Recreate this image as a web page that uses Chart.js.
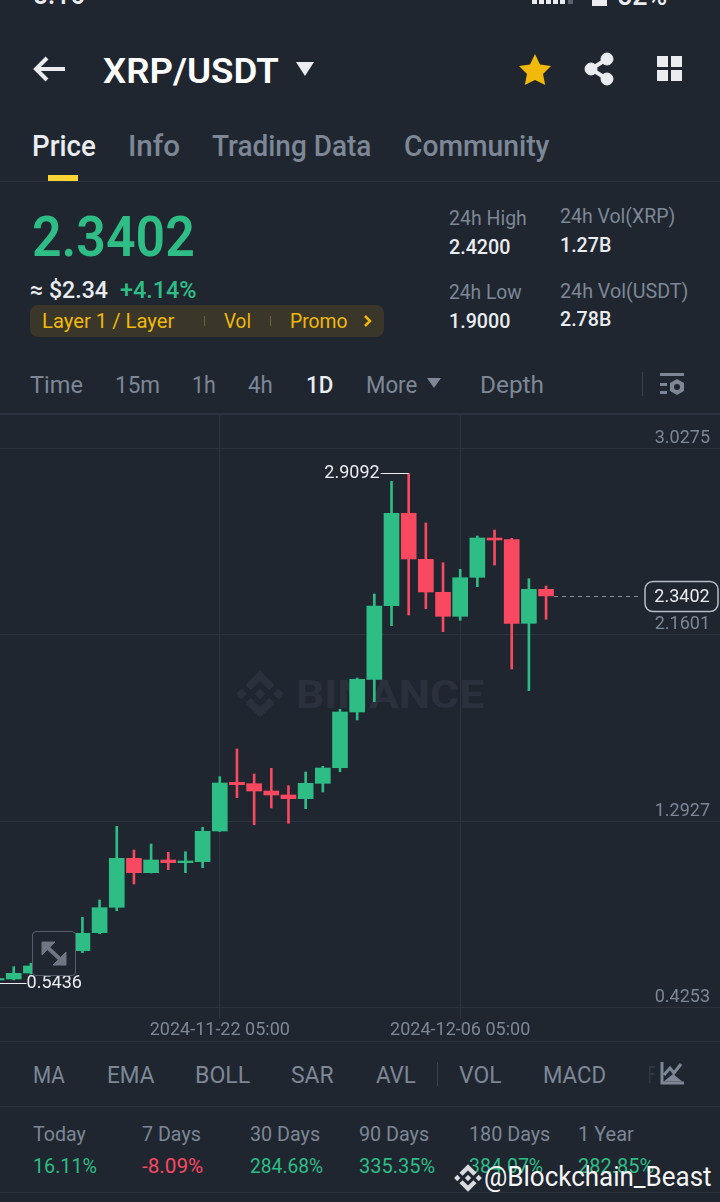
<!DOCTYPE html>
<html>
<head>
<meta charset="utf-8"/>
<title>XRP/USDT</title>
<script src="https://cdn.jsdelivr.net/npm/chart.js@4"></script>
<style>
html,body{margin:0;padding:0;background:#1f2630;width:720px;height:1202px;overflow:hidden;font-family:Roboto,sans-serif}
#ui span{position:absolute;white-space:nowrap;transform-origin:left center;line-height:1}
.line{position:absolute;left:0;width:720px;height:1px;background:#2c333e}
.abs{position:absolute}
#chart{position:absolute;left:0;top:414px}
</style>
</head>
<body>
<svg width="0" height="0" style="position:absolute"><defs>
<symbol id="logo" viewBox="0 0 126 126"><path d="M38.73 53.2L63 28.93l24.28 24.28 14.12-14.12L63 .68 24.6 39.09l14.13 14.11zM.68 63l14.13-14.13L28.94 63 14.8 77.13.68 63zm38.05 9.8L63 97.07l24.28-24.28 14.13 14.1L63 125.32 24.6 86.91l-.02-.02 14.15-14.09zM97.06 63l14.13-14.13L125.32 63l-14.13 14.13L97.06 63zM77.33 63L63 48.67 52.4 59.26l-1.22 1.22-2.5 2.51 14.33 14.33L77.33 63z"/></symbol>
</defs></svg>

<div class="abs" style="left:30px;top:305px;width:354px;height:32px;border-radius:8px;background:#3a3629"></div>
<div class="abs" style="left:204px;top:316px;width:1px;height:10px;background:#6e6238"></div>
<div class="abs" style="left:270px;top:316px;width:1px;height:10px;background:#6e6238"></div>

<!-- watermark sits under the transparent canvas -->
<svg class="abs" style="left:236px;top:670px;fill:#2a313c" width="48" height="48"><use href="#logo"/></svg>
<div id="ui"></div>

<div class="line" style="top:181px"></div>
<div class="abs" style="left:48px;top:175px;width:30px;height:6px;background:#fcd535"></div>
<div class="line" style="top:413px;height:2px"></div>
<div class="line" style="top:1041px"></div>
<div class="line" style="top:1106px"></div>
<div class="line" style="top:1192px"></div>
<div class="abs" style="left:642px;top:372px;width:1px;height:24px;background:#3a424e"></div>
<div class="abs" style="left:437px;top:1062px;width:1px;height:24px;background:#3a424e"></div>

<!-- status bar leftovers -->
<svg class="abs" style="left:532px;top:0" width="76" height="7" fill="#eaecef"><path d="M0 0h5v4H0zM7 0h5v4H7zM14 0h5v4h-5zM21 0h5v4h-5zM28 0h5v4h-5z"/><path d="M36 0h5v4h-5z" fill="#5a626e"/><path d="M60 0h15v6H60z"/></svg>

<!-- top icons -->
<svg class="abs" style="left:30px;top:52px" width="40" height="34" fill="none" stroke="#eaecef" stroke-width="4"><path d="M35 17H7M17 6L6 17l11 11"/></svg>
<svg class="abs" style="left:295px;top:61px" width="20" height="16" fill="#eaecef"><path d="M1 1h18l-9 14z"/></svg>
<svg class="abs" style="left:518px;top:53px" width="34" height="32" fill="#f0b90b"><path d="M17 1l5 10.5 11 1.5-8 8 2.2 11L17 27l-10.200 5L9 21 1 13l11-1.500z"/></svg>
<svg class="abs" style="left:583px;top:52px" width="34" height="34" fill="#eaecef" stroke="#eaecef"><circle cx="24" cy="7" r="6"/><circle cx="8" cy="17" r="6"/><circle cx="24" cy="27" r="6"/><path d="M24 7L8 17l16 10" fill="none" stroke-width="4"/></svg>
<svg class="abs" style="left:656px;top:55px" width="28" height="28" fill="#eaecef"><path d="M1 1h11v11H1zM15 1h11v11H15zM1 15h11v11H1zM15 15h11v11H15z"/></svg>
<svg class="abs" style="left:427px;top:378px" width="14" height="11" fill="#7d8796"><path d="M0 0h14l-7 10z"/></svg>
<svg class="abs" style="left:660px;top:372px" width="25" height="25" fill="#7d8796"><path d="M0 1h24v3H0zM0 11h7v3H0zM0 19h7v3H0z"/><path d="M17 7l7 4v8l-7 4-7-4v-8z"/><circle cx="17" cy="15" r="3" fill="#1f2630"/></svg>
<svg class="abs" style="left:660px;top:1061px" width="25" height="25" fill="none" stroke="#7d8796" stroke-width="3"><path d="M2 1v21h22"/><path d="M4 14l6-7 4 5 7-9"/><path d="M8 19l5-4 5 4z" fill="#7d8796"/></svg>
<svg class="abs" style="left:362px;top:314px" width="12" height="14" fill="none" stroke="#f0b90b" stroke-width="2.500"><path d="M3 2l5 5-5 5"/></svg>

<canvas id="chart" width="720" height="627" style="width:720px;height:627px"></canvas>

<!-- expand button covers the candles behind it -->
<div class="abs" style="left:32px;top:931px;width:42px;height:43px;border:1px solid #555d6a;border-radius:4px;background:#1f2630"></div>
<svg class="abs" style="left:41px;top:940px" width="26" height="27" fill="#6f7784" stroke="#6f7784"><path d="M1 2h13L1 15z"/><path d="M25 25H12l13-13z"/><path d="M6 7l14 13" stroke-width="4"/></svg>

<svg class="abs" style="left:454px;top:1164px;fill:#d9dbdf" width="28" height="28"><use href="#logo"/></svg>

<script>
// daily candles
const dates = [
	'2024-11-09 05:00','2024-11-10 05:00','2024-11-11 05:00','2024-11-12 05:00','2024-11-13 05:00','2024-11-14 05:00',
	'2024-11-15 05:00','2024-11-16 05:00','2024-11-17 05:00','2024-11-18 05:00','2024-11-19 05:00','2024-11-20 05:00',
	'2024-11-21 05:00','2024-11-22 05:00','2024-11-23 05:00','2024-11-24 05:00','2024-11-25 05:00','2024-11-26 05:00',
	'2024-11-27 05:00','2024-11-28 05:00','2024-11-29 05:00','2024-11-30 05:00','2024-12-01 05:00','2024-12-02 05:00',
	'2024-12-03 05:00','2024-12-04 05:00','2024-12-05 05:00','2024-12-06 05:00','2024-12-07 05:00','2024-12-08 05:00',
	'2024-12-09 05:00','2024-12-10 05:00','2024-12-11 05:00'
];
const opens = [
	0.5554,0.5600,0.5879,0.6205,0.6576,0.6916,0.7752,0.8932,1.1209,1.0540,1.1130,1.1005,1.1051,1.2478,1.4741,1.4676,1.4336,
	1.4151,1.3979,1.4694,1.5419,1.8007,1.9527,2.2947,2.7241,2.5103,2.3570,2.2454,2.4266,2.6093,2.6014,2.2129,2.3709
];
const closes = [
	0.5624,0.5865,0.6205,0.6576,0.6916,0.7724,0.8914,1.1209,1.0540,1.1130,1.1005,1.1084,1.2464,1.4708,1.4629,1.4336,1.4151,
	1.3979,1.4694,1.5405,1.8007,1.9527,2.2933,2.7241,2.5117,2.3584,2.2454,2.4248,2.6093,2.6000,2.2129,2.3709,2.3402
];
const highs = [
	0.5740,0.6172,0.6330,0.6762,0.7134,0.8468,0.9271,1.2696,1.1595,1.1874,1.1488,1.1516,1.2650,1.5001,1.6288,1.5126,1.5391,
	1.4583,1.5219,1.5484,1.8133,1.9587,2.3491,2.8728,2.9092,2.6790,2.4945,2.4638,2.6186,2.6465,2.6079,2.4200,2.3862
];
const lows = [
	0.5436,0.5554,0.5833,0.6112,0.6483,0.6823,0.7705,0.8774,1.0015,1.0526,1.0679,1.0540,1.0772,1.2455,1.4025,1.2770,1.3547,
	1.2835,1.3514,1.4290,1.5233,1.7636,1.8486,2.2018,2.2515,2.2808,2.1739,2.2269,2.3830,2.4838,2.0006,1.9000,2.2315
];
const priceTicks = [3.0275, 2.1601, 1.2927, 0.4253];
const dateTicks = ['2024-11-22 05:00', '2024-12-06 05:00'];
const lastPrice = 2.3402;

const GREEN = '#2ebd85', RED = '#f84960';

function candleColor(ctx) {
	return closes[ctx.dataIndex] >= opens[ctx.dataIndex] ? GREEN : RED;
}

// high / low callouts and the last price pill
const marks = {
	id: 'marks',
	afterDatasetsDraw(chart) {
		const c = chart.ctx, x = chart.scales.x, y = chart.scales.y;
		const hi = highs.indexOf(Math.max(...highs));
		const lo = lows.indexOf(Math.min(...lows));
		c.save();
		c.font = '18px Roboto';
		c.textBaseline = 'middle';
		c.strokeStyle = '#eaecef';
		c.fillStyle = '#eaecef';
		c.lineWidth = 1;

		let px = x.getPixelForValue(hi), py = Math.round(y.getPixelForValue(highs[hi])) + 0.5;
		c.beginPath(); c.moveTo(px, py); c.lineTo(px - 28, py); c.stroke();
		c.textAlign = 'right';
		c.fillText(highs[hi].toFixed(4), px - 29, py);

		px = x.getPixelForValue(lo); py = Math.round(y.getPixelForValue(lows[lo])) + 0.5;
		c.beginPath(); c.moveTo(0, py); c.lineTo(px + 30, py); c.stroke();
		c.textAlign = 'left';
		c.fillText(lows[lo].toFixed(4), px + 30, py);

		px = x.getPixelForValue(dates.length - 1); py = Math.round(y.getPixelForValue(lastPrice)) + 0.5;
		c.strokeStyle = '#848e9c';
		c.setLineDash([4, 4]);
		c.beginPath(); c.moveTo(px + 8, py); c.lineTo(638, py); c.stroke();
		c.setLineDash([]);
		c.fillStyle = '#1f2630';
		c.strokeStyle = '#b7bdc6';
		c.lineWidth = 1.5;
		c.beginPath(); c.roundRect(645, py - 15, 73, 30, 8); c.fill(); c.stroke();
		c.fillStyle = '#eaecef';
		c.textAlign = 'center';
		c.fillText(lastPrice.toFixed(4), 682, py + 1);
		c.restore();
	}
};

new Chart(document.getElementById('chart'), {
	type: 'bar',
	data: {
		datasets: [
			{
				data: dates.map((d, i) => ({x: i, y: [lows[i], highs[i]]})),
				backgroundColor: candleColor,
				barThickness: 2,
				grouped: false,
				order: 2
			},
			{
				data: dates.map((d, i) => ({x: i, y: [opens[i], closes[i]]})),
				backgroundColor: candleColor,
				barThickness: 15,
				grouped: false,
				order: 1
			}
		]
	},
	options: {
		responsive: false,
		animation: false,
		devicePixelRatio: 1,
		layout: {padding: 0, autoPadding: false},
		plugins: {legend: {display: false}, tooltip: {enabled: false}},
		scales: {
			x: {
				type: 'linear',
				offset: false,
				min: 0.2,
				max: 42.13,
				position: 'bottom',
				border: {display: false},
				grid: {color: '#2c333e', offset: false, drawTicks: false, tickLength: 0},
				ticks: {
					autoSkip: false,
					maxRotation: 0,
					padding: 2,
					color: '#7d8796',
					font: {family: 'Roboto', size: 18},
					callback: v => dates[v]
				},
				afterBuildTicks: s => { s.ticks = dateTicks.map(d => ({value: dates.indexOf(d)})); },
				afterFit: s => { s.height = 23; s.paddingLeft = 0; s.paddingRight = 0; }
			},
			y: {
				position: 'right',
				min: 0.3788,
				max: 3.1855,
				border: {display: false},
				grid: {color: '#2c333e', drawTicks: false, tickLength: 0},
				ticks: {
					mirror: true,
					padding: -10,
					labelOffset: -10,
					color: '#7d8796',
					font: {family: 'Roboto', size: 18},
					callback: v => v.toFixed(4)
				},
				afterBuildTicks: s => { s.ticks = priceTicks.map(v => ({value: v})); },
				afterFit: s => { s.width = 0; s.paddingTop = 0; s.paddingBottom = 0; }
			}
		}
	},
	plugins: [marks]
});

// page text around the chart: text, left, right, centre y, size, colour, weight
const W = '#eaecef', G = '#7d8796', Y = '#f0b90b';
const pageText = [
	['8:16', 33, 85, -6, 30, W, 500],
	['52%', 617, 667, -5, 30, W, 500],
	['XRP/USDT', 103, 279, 71, 35, '#ffffff', 600],
	['Price', 32, 96, 146, 29, W, 500],
	['Info', 128, 180, 146, 29, G, 500],
	['Trading Data', 212, 371, 146, 29, G, 500],
	['Community', 404, 549, 146, 29, G, 500],
	['2.3402', 32, 195, 237, 55, GREEN, 600],
	['≈ $2.34', 30, 108, 290, 24, W, 500],
	['+4.14%', 120, 197, 290, 24, GREEN, 500],
	['Layer 1 / Layer', 42, 174, 321, 21, Y, 400],
	['Vol', 224, 251, 321, 21, Y, 400],
	['Promo', 290, 348, 321, 21, Y, 400],
	['24h High', 449, 527, 218, 20, G, 400],
	['2.4200', 449, 510, 247, 20, W, 500],
	['24h Vol(XRP)', 560, 675, 216, 20, G, 400],
	['1.27B', 560, 611, 245, 20, W, 500],
	['24h Low', 449, 522, 292, 20, G, 400],
	['1.9000', 449, 510, 321, 20, W, 500],
	['24h Vol(USDT)', 560, 688, 291, 20, G, 400],
	['2.78B', 560, 611, 319, 20, W, 500],
	['Time', 30, 83, 385, 24, G, 400],
	['15m', 115, 160, 385, 24, G, 400],
	['1h', 192, 216, 385, 24, G, 400],
	['4h', 248, 273, 385, 24, G, 400],
	['1D', 306, 333, 385, 24, W, 500],
	['More', 366, 417, 385, 24, G, 400],
	['Depth', 480, 544, 385, 24, G, 400],
	['MA', 33, 65, 1075, 24, G, 400],
	['EMA', 107, 154, 1075, 24, G, 400],
	['BOLL', 195, 250, 1075, 24, G, 400],
	['SAR', 291, 334, 1075, 24, G, 400],
	['AVL', 376, 416, 1075, 24, G, 400],
	['VOL', 459, 502, 1075, 24, G, 400],
	['MACD', 543, 606, 1075, 24, G, 400],
	['F', 648, 655, 1075, 24, '#333a45', 400],
	['Today', 33, 86, 1134, 20, G, 400],
	['7 Days', 142, 201, 1134, 20, G, 400],
	['30 Days', 250, 320, 1134, 20, G, 400],
	['90 Days', 359, 429, 1134, 20, G, 400],
	['180 Days', 469, 550, 1134, 20, G, 400],
	['1 Year', 578, 634, 1134, 20, G, 400],
	['16.11%', 33, 97, 1166, 20, GREEN, 400],
	['-8.09%', 142, 203, 1166, 20, RED, 400],
	['284.68%', 250, 323, 1166, 20, GREEN, 400],
	['335.35%', 359, 435, 1166, 20, GREEN, 400],
	['384.07%', 469, 543, 1166, 20, GREEN, 400],
	['282.85%', 578, 654, 1166, 20, GREEN, 400],
	['BINANCE', 296, 484, 695, 38, '#2a313c', 700]
];
const ui = document.getElementById('ui');
for (const [text, x1, x2, cy, size, color, weight] of pageText) {
	const s = document.createElement('span');
	s.textContent = text;
	s.style.cssText = `left:${x1}px;top:${cy - size / 2}px;font-size:${size}px;color:${color};font-weight:${weight}`;
	ui.appendChild(s);
	s.style.transform = `scaleX(${(x2 - x1) / s.offsetWidth})`;
}
// signature goes above the chart and the stats row
const sig = document.createElement('span');
sig.textContent = '@Blockchain_Beast';
sig.style.cssText = 'position:absolute;left:484px;top:1164px;font-size:27px;line-height:1;color:#f5f5f5;white-space:nowrap;transform-origin:left center';
document.body.appendChild(sig);
sig.style.transform = `scaleX(${228 / sig.offsetWidth})`;
</script>
</body>
</html>
